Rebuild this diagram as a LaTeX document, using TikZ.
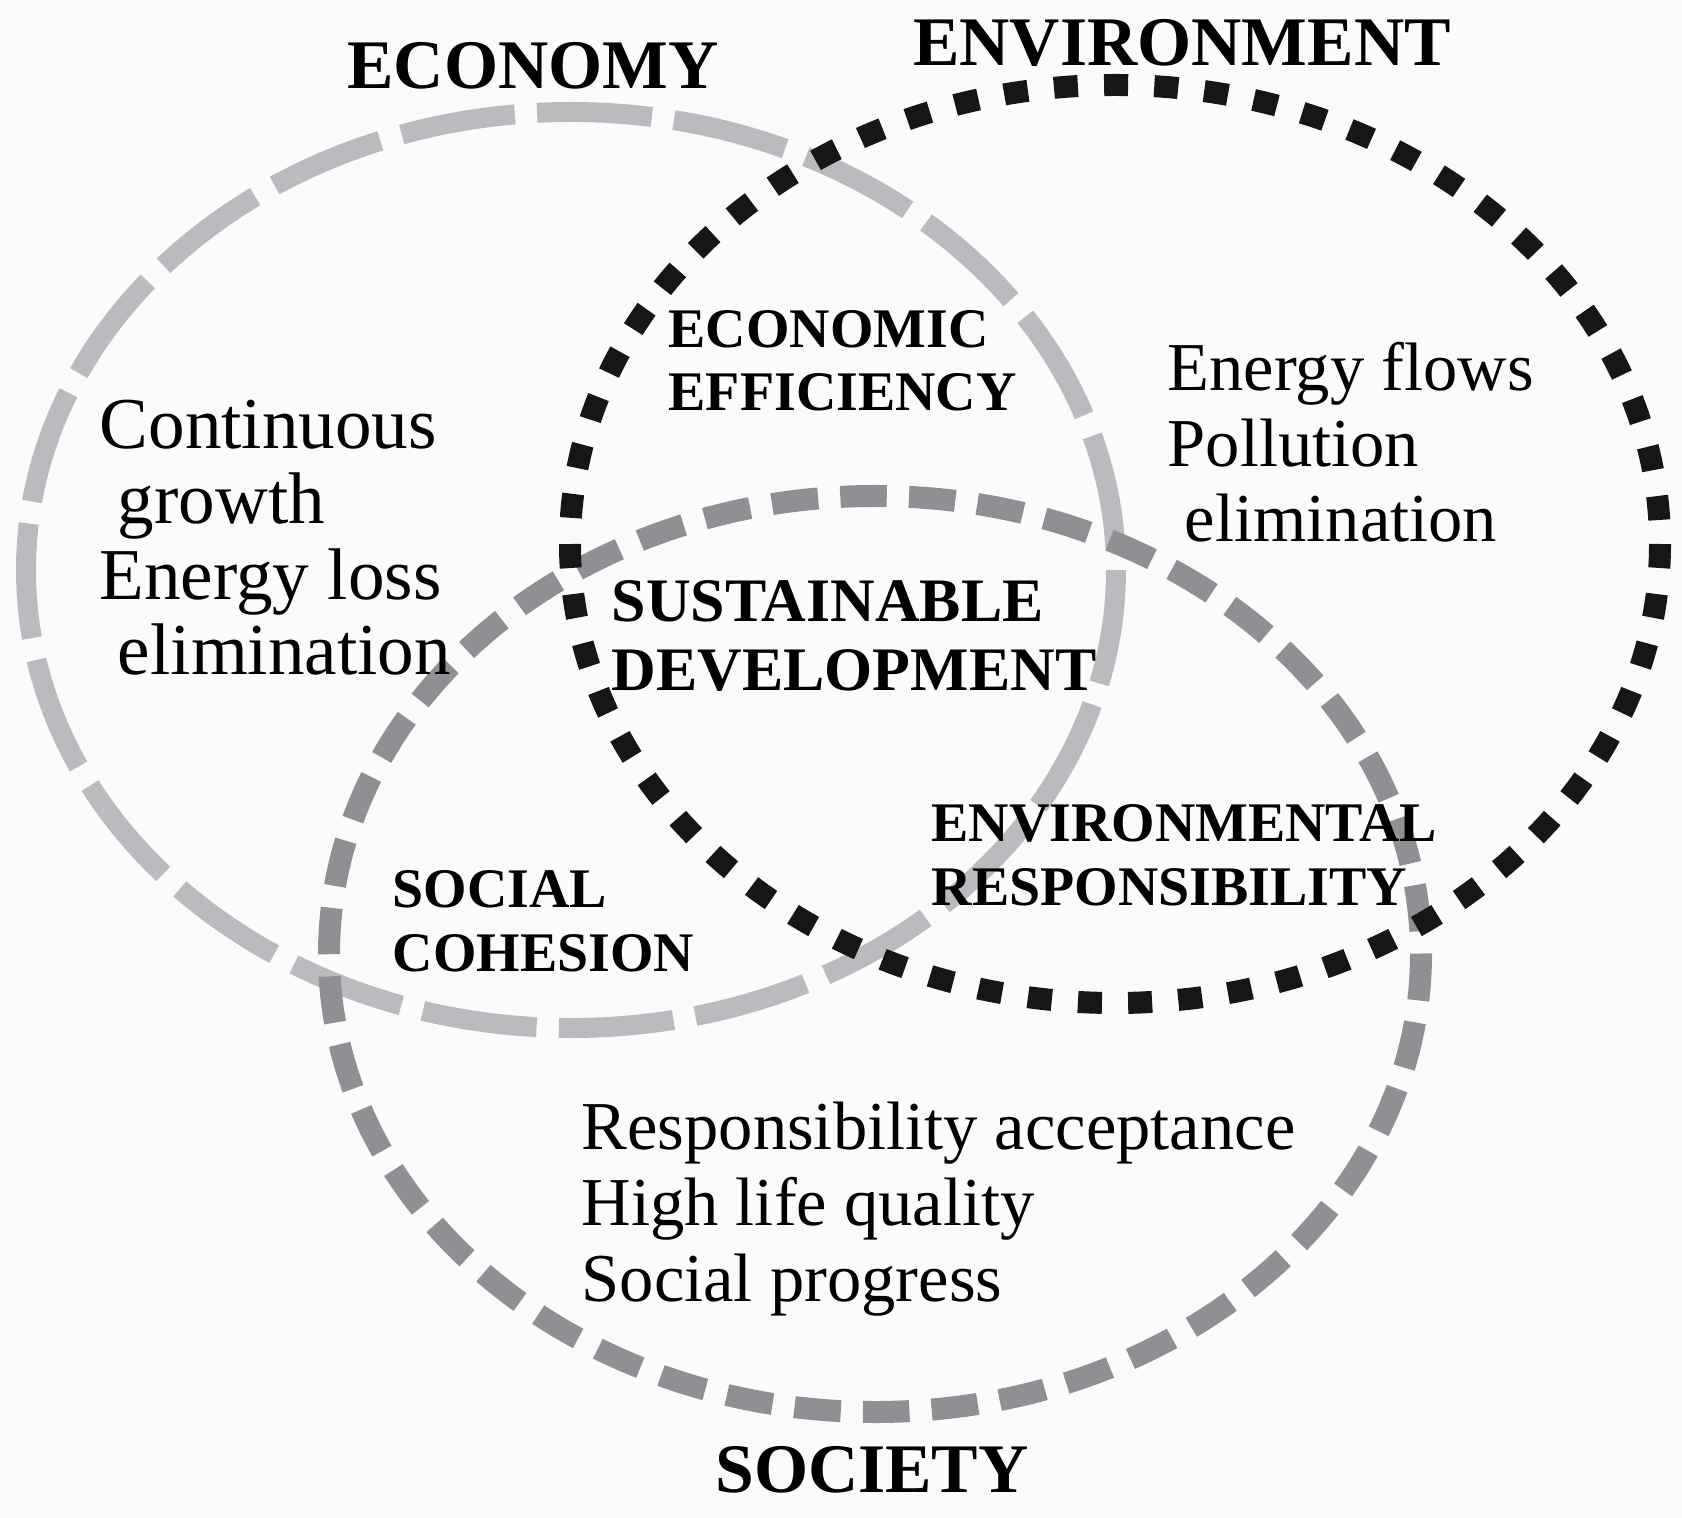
\documentclass[tikz,border=0pt]{standalone}
\usepackage{fontspec}
\setmainfont{Liberation Serif}
\usetikzlibrary{positioning}
\definecolor{econgray}{RGB}{185,187,191}
\definecolor{socgray}{RGB}{142,144,148}
\definecolor{envblack}{RGB}{22,22,22}
\definecolor{paper}{RGB}{251,251,251}

\begin{document}
\begin{tikzpicture}[
    x=0.1mm, y=-0.1mm,
    econline/.style={draw=econgray, line width=2mm, dash pattern=on 11.5mm off 2.23mm},
    socline/.style={draw=socgray, line width=2.2mm, dash pattern=on 4.65mm off 2.22mm},
    envline/.style={draw=envblack, line width=2.2mm, dash pattern=on 2.4mm off 2.62mm},
    title/.style={font=\fontsize{19.8}{22}\selectfont\bfseries, anchor=base, inner sep=0pt},
    overlap/.style={font=\fontsize{15.9}{18}\selectfont\bfseries, anchor=base west, align=left, inner sep=0pt},
    item/.style={font=\fontsize{19.5}{21.5}\selectfont, anchor=base west, align=left, inner sep=0pt}
]
    \path[use as bounding box, fill=paper] (0,0) rectangle (1682,1518);

    % the three circles
    \draw[econline] (571,570) ellipse [x radius=545, y radius=458];
    \draw[socline] (875,954) ellipse [x radius=546, y radius=458];
    \draw[envline] (1115,544) ellipse [x radius=545, y radius=459];

    \node[title] (economy) at (533,89) {ECONOMY};
    \node[title] (environment) at (1182,66) {ENVIRONMENT};
    \node[title] (society) at (872,1492) {SOCIETY};

    % overlaps (placed at the baseline of their last line)
    \node[overlap] (efficiency) at (668,411) {ECONOMIC\\EFFICIENCY};
    \node[overlap, font=\fontsize{17.6}{19.9}\selectfont\bfseries] (sustainable) at (611,691) {SUSTAINABLE\\DEVELOPMENT};
    \node[overlap] (responsibility) at (931,905) {ENVIRONMENTAL\\RESPONSIBILITY};
    \node[overlap] (cohesion) at (392,971) {SOCIAL\\COHESION};

    \node[item, font=\fontsize{20.8}{21.5}\selectfont] (econitems) at (99,675) {Continuous\\\ growth\\Energy loss\\\ elimination};
    \node[item] (envitems) at (1167,542) {Energy flows\\Pollution\\\ elimination};
    \node[item] (socitems) at (581,1301) {Responsibility acceptance\\High life quality\\Social progress};
\end{tikzpicture}
\end{document}
